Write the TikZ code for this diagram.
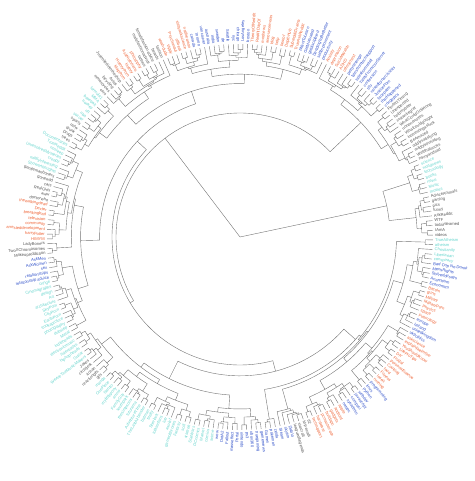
\documentclass[tikz,border=0pt]{standalone}
\usepackage{fontspec}
\usepackage{tikz}
\newfontfamily\lblfont{Liberation Sans}
\definecolor{treeline}{RGB}{115,115,115}
\definecolor{tq}{RGB}{100,212,204}
\definecolor{gy}{RGB}{85,85,85}
\definecolor{bu}{RGB}{45,78,200}
\definecolor{og}{RGB}{238,98,52}
\newcommand{\tzero}{22}
\newcommand{\tstep}{1.428571}
\newcommand{\rtip}{193}
% one clade of the fan: first leaf, last leaf, radius of the parent
\newcommand{\subtree}[3]{%
  \begingroup
  \pgfmathtruncatemacro\sz{#2-#1+1}%
  \pgfmathsetmacro\ang{\tzero-\tstep*(#1+#2)/2}%
  \ifnum\sz=1
    \draw[branch] (\ang:\rtip pt) -- (\ang:#3pt);%
    \def\next{}%
  \else
    \pgfmathsetmacro\rad{min(189,max(#3+1.5,189.5-5.5*ln(\sz)-0.25*\sz+3*rnd))}%
    \pgfmathtruncatemacro\cut{#1+floor((rnd+rnd)/2*(\sz-1))}%
    \pgfmathsetmacro\angl{\tzero-\tstep*(#1+\cut)/2}%
    \pgfmathsetmacro\angr{\tzero-\tstep*(\cut+1+#2)/2}%
    \draw[branch] (\ang:#3pt) -- (\ang:\rad pt) (\angl:\rad pt) arc[start angle=\angl, end angle=\angr, radius=\rad pt];%
    \edef\next{\noexpand\subtree{#1}{\cut}{\rad}\noexpand\subtree{\the\numexpr\cut+1\relax}{#2}{\rad}}%
  \fi
  \expandafter\endgroup\next}

\begin{document}
\begin{tikzpicture}[
  branch/.style={draw=treeline, line width=0.4pt},
  leaf/.style={font=\lblfont\fontsize{4.1}{4.5}\selectfont, inner sep=0pt}]
	\useasboundingbox (-240pt,-244pt) rectangle (234pt,237pt);
	\pgfmathsetseed{12}
	\coordinate (root) at (0,0);
	\coordinate (c1) at (127.18:124pt);
	\coordinate (c2) at (12:150pt);
	\draw[branch] (root) -- (c1);
	\draw[branch] (root) -- (c2);
	% upper levels of the tree
	\draw[branch] (43.43:124pt) arc[start angle=43.43, end angle=210.93, radius=124pt];
	\draw[branch] (210.93:124pt) -- (210.93:128pt);
	\draw[branch] (137:128pt) arc[start angle=137, end angle=284.86, radius=128pt];
	\draw[branch] (17.714:150pt) arc[start angle=17.714, end angle=6.286, radius=150pt];
	\subtree{0}{6}{150}
	\subtree{7}{15}{150}
	\subtree{16}{120}{128}
	\subtree{121}{222}{128}
	\subtree{223}{251}{124}
	% leaf labels
	\foreach \nm/\cl [count=\i from 0] in {science/tq, worldnews/tq, technology/tq, books/tq, news/tq, Music/tq, movies/tq,
		AdviceAnimals/gy, gaming/gy, pics/gy, funny/gy, AskReddit/gy, WTF/gy, todayilearned/gy, IAmA/gy, videos/gy,
		TrueAtheism/tq, atheism/tq, Christianity/tq, Libertarian/tq, conspiracy/tq,
		Bad Cop No Donut/bu, MensRights/bu, Shitredditsays/bu, Anarchism/bu, Economics/bu,
		Bitcoin/og, guns/og, Military/og, MilitaryPorn/og, Physics/og, space/og, Futurology/og,
		europe/bu, Ireland/bu, unitedkingdom/bu, ukpolitics/bu,
		askscience/og, explainlikeimfive/og, YouShouldKnow/og, LifeProTips/og, DIY/og, Frugal/og, personalfinance/og, Cooking/og, food/og, Fitness/og, loseit/og, running/og,
		programming/bu, linux/bu, Python/bu, webdev/bu, javascript/bu, compsci/bu, sysadmin/bu, netsec/bu,
		apple/og, Android/og, gadgets/og, buildapc/og, pcmasterrace/og, hardware/og, techsupport/og,
		tf2/gy, Minecraft/gy, starcraft/gy, leagueoflegends/gy,
		Diablo/bu, skyrim/bu, Steam/bu, zelda/bu, pokemon/bu, Games/bu, gamernews/bu, truegaming/bu, xbox360/bu, ps3/bu, nintendo/bu, Portal/bu, masseffect/bu, Fallout/bu, DotA2/bu, wow/bu,
		anime/tq, comics/tq, Marvel/tq, DCcomics/tq, StarWars/tq, startrek/tq, scifi/tq, Fantasy/tq, gameofthrones/tq, asoiaf/tq, lotr/tq, tolkienfans/tq, Sherlock/tq, firefly/tq, batman/tq, TheLastAirbender/tq, AdventureTime/tq, futurama/tq, thesimpsons/tq, southpark/tq, FamilyGuy/tq, arrow/tq, mylittlepony/tq, Naruto/tq, OnePiece/tq, manga/tq,
		gifs/gy, reactiongifs/gy, 4chan/gy, circlejerk/gy, Jokes/gy,
		WeAreTheMusicMakers/tq, Guitar/tq, hiphopheads/tq, listentothis/tq, electronicmusic/tq, indieheads/tq, Metal/tq, dubstep/tq, photography/tq, itookapicture/tq, EarthPorn/tq, CityPorn/tq, SkyPorn/tq, architecture/tq, Art/tq, design/tq, Cinemagraphs/tq, cringe/tq,
		relationship advice/bu, relationships/bu, sex/bu, AskWomen/bu, AskMen/bu,
		MakeupAddiction/gy, TwoXChromosomes/gy, LadyBoners/gy,
		HIMYM/og, harrypotter/og, arresteddevelopment/og, community/og, television/og, breakingbad/og, Dexter/og, thewalkingdead/og,
		doctorwho/gy, aww/gy, RealGirls/gy, cats/gy, gonewild/gy, gentlemanboners/gy,
		Showerthoughts/tq, mildlyinteresting/tq, creepy/tq, UnresolvedMysteries/tq, nosleep/tq, TrueReddit/tq, Documentaries/tq,
		trees/gy, Drugs/gy, drunk/gy, nsfw/gy, sports/gy,
		soccer/tq, nba/tq, nfl/tq, hockey/tq, baseball/tq, MMA/tq, formula1/tq,
		cars/gy, motorcycles/gy, bicycling/gy, Autos/gy, Justrolledintotheshop/gy,
		MapPorn/og, HistoryPorn/og, history/og, AskHistorians/og, philosophy/og,
		tattoos/gy, malefashionadvice/gy, femalefashionadvice/gy, beards/gy, fashion/gy,
		woahdude/og, trippy/og, Psychonaut/og, offbeat/og, shittyaskscience/og, nottheonion/og,
		canada/bu, toronto/bu, vancouver/bu, australia/bu, india/bu, sweden/bu, de/bu, Seattle/bu, nyc/bu, chicago/bu, LosAngeles/bu, boston/bu,
		TheoryOfReddit/og, RedditDayOf/og, modnews/og, announcements/og, blog/og, help/og, bestof/og, DepthHub/og, SubredditDrama/og, TrueAskReddit/og,
		IWantToLearn/bu, GetMotivated/bu, getdisciplined/bu, DecidingToBeBetter/bu, selfimprovement/bu, productivity/bu,
		Anxiety/og, depression/og, SuicideWatch/og, ADHD/og, offmychest/og,
		pettyrevenge/bu, talesfromtechsupport/bu, talesfromretail/bu, TalesFromYourServer/bu, confession/bu, tifu/bu, raisedbynarcissists/bu, JusticePorn/bu, facepalm/bu, thatHappened/bu, cringepics/bu,
		PerfectTiming/gy, Unexpected/gy, holdmybeer/gy, instantregret/gy, WhatCouldGoWrong/gy, nonononoyes/gy, Whatcouldgoright/gy, interestingasfuck/gy, BeAmazed/gy, oddlysatisfying/gy, mildlyinfuriating/gy, Wellthatsucks/gy, funnyandsad/gy}{
		\pgfmathsetmacro\ang{\tzero-\tstep*\i}
		\pgfmathtruncatemacro\lft{cos(\ang)<0}
		\ifnum\lft=1
			\node[leaf, text=\cl, rotate=\ang+180, anchor=east] (l\i) at (\ang:195pt) {\nm};
		\else
			\node[leaf, text=\cl, rotate=\ang, anchor=west] (l\i) at (\ang:195pt) {\nm};
		\fi
	}
\end{tikzpicture}
\end{document}
